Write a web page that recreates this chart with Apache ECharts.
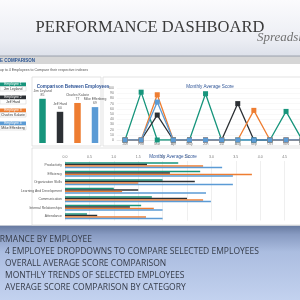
<!DOCTYPE html>
<html><head><meta charset="utf-8">
<script src="https://cdn.jsdelivr.net/npm/echarts/dist/echarts.min.js"></script>
<style>html,body{margin:0;padding:0;background:#fff}#c{width:300px;height:300px}</style>
</head><body><div id="c"></div>
<script>
const employees = ['Jim Leyland', 'Jeff Hard', 'Charles Kalarie', 'Mike Effenberg'];
const employeeSlots = ['Employee 1', 'Employee 2', 'Employee 3', 'Employee 4'];
const overallScores = [85, 60, 77, 69];
const months = ['Jan', 'Feb', 'Mar', 'Apr', 'May', 'Jun', 'Jul', 'Aug', 'Sep', 'Oct', 'Nov', 'Dec'];
const monthlyJim = [0, 92, 0, 0, 0, 89, 0, 0, 0, 0, 55, 0];
const monthlyJeff = [0, 0, 48, 0, 0, 0, 0, 70, 0, 0, 0, 0];
const monthlyCharles = [0, 0, 87, 0, 0, 0, 0, 0, 57, 0, 0, 0];
const monthlyMike = [0, 0, 73, 0, 0, 0, 0, 0, 0, 0, 0, 0];
const categories = ['Productivity', 'Efficiency', 'Organization Skills', 'Learning And Development', 'Communication', 'Internal Relationships', 'Attendance'];
const categoryJim = [2.32, 2.77, 2.0, 1.0, 1.78, 1.56, 0.45];
const categoryJeff = [1.68, 2.15, 2.66, 1.5, 2.5, 1.33, 0.66];
const categoryCharles = [2.83, 3.83, 1.5, 1.17, 2.83, 1.82, 1.66];
const categoryMike = [3.22, 3.44, 3.44, 2.89, 2.99, 2.0, 2.0];
const bannerLines = ['PERFORMANCE BY EMPLOYEE', '4 EMPLOYEE DROPDOWNS TO COMPARE SELECTED EMPLOYEES', 'OVERALL AVERAGE SCORE COMPARISON', 'MONTHLY TRENDS OF SELECTED EMPLOYEES', 'AVERAGE SCORE COMPARISON BY CATEGORY'];

const colors = ['#17957c', '#2c3034', '#ee7d31', '#5b9bd5'];
const monthly = [monthlyJim, monthlyJeff, monthlyCharles, monthlyMike];
const byCat = [categoryJim, categoryJeff, categoryCharles, categoryMike];
const titleColor = '#2f5597';

const chart = echarts.init(document.getElementById('c'), null, {renderer: 'canvas'});

const graphics = [];
// header
graphics.push({type: 'rect', shape: {x: 0, y: 0, width: 300, height: 56}, z: -20,
  style: {fill: new echarts.graphic.LinearGradient(0, 0, 0, 1, [{offset: 0, color: '#fbfbfd'}, {offset: 0.7, color: '#eceef4'}, {offset: 1, color: '#dde1ea'}])}});
graphics.push({type: 'rect', shape: {x: 0, y: 55.5, width: 300, height: 1.2}, z: -19, style: {fill: '#9ea3ad'}});
graphics.push({type: 'text', x: 150, y: 28, z: 5, style: {text: 'PERFORMANCE DASHBOARD', font: '16.5px "Liberation Serif"', fill: '#3a3a3a', textAlign: 'center', textVerticalAlign: 'middle'}});
graphics.push({type: 'text', x: 257, y: 44, z: 5, style: {text: 'Spreadsheet', font: 'italic 13px "Liberation Serif"', fill: '#707070', textAlign: 'left', textVerticalAlign: 'bottom'}});
// screenshot top bar
graphics.push({type: 'rect', shape: {x: 0, y: 57, width: 300, height: 7}, z: -19, style: {fill: '#d6d6d6'}});
graphics.push({type: 'text', x: 35, y: 60.7, z: 5, style: {text: 'EMPLOYEE COMPARISON', font: 'bold 4.5px "Liberation Sans"', fill: '#2c5694', textAlign: 'right', textVerticalAlign: 'middle'}});
graphics.push({type: 'text', x: 88, y: 70, z: 5, style: {text: 'Select up to 4 Employees to Compare their respective indexes', font: '3.6px "Liberation Sans"', fill: '#555', textAlign: 'right', textVerticalAlign: 'middle'}});
// panels
[[32, 77, 69, 69], [103, 77, 200, 69], [32, 148, 270, 77]].forEach(p => {
  graphics.push({type: 'rect', shape: {x: p[0], y: p[1], width: p[2], height: p[3]}, z: -15, style: {fill: '#fff', stroke: '#dcdcdc', lineWidth: 0.8}});
});
// employee selectors
const slotY = [82.5, 95.5, 108.5, 121.5];
employeeSlots.forEach((s, i) => {
  graphics.push({type: 'rect', shape: {x: 0, y: slotY[i], width: 26, height: 4}, z: 1, style: {fill: colors[i]}});
  graphics.push({type: 'text', x: 13, y: slotY[i] + 2, z: 5, style: {text: s, font: '3.3px "Liberation Sans"', fill: '#fff', textAlign: 'center', textVerticalAlign: 'middle'}});
  graphics.push({type: 'rect', shape: {x: 0, y: slotY[i] + 4, width: 26, height: 4.5}, z: 1, style: {fill: '#fff', stroke: '#cfcfcf', lineWidth: 0.5}});
  graphics.push({type: 'text', x: 13, y: slotY[i] + 6.3, z: 5, style: {text: employees[i], font: '3.5px "Liberation Sans"', fill: '#333', textAlign: 'center', textVerticalAlign: 'middle'}});
});
// banner
graphics.push({type: 'rect', shape: {x: 0, y: 225.5, width: 300, height: 75}, z: -20,
  style: {fill: new echarts.graphic.LinearGradient(0, 0, 0, 1, [{offset: 0, color: '#66799f'}, {offset: 0.12, color: '#889bc2'}, {offset: 0.35, color: '#abbde0'}, {offset: 1, color: '#c3d2ef'}])}});
graphics.push({type: 'rect', shape: {x: 0, y: 225, width: 300, height: 0.8}, z: -19, style: {fill: '#c8ccd6'}});
const bannerY = [239.5, 252, 264, 276, 288];
bannerLines.forEach((t, i) => {
  graphics.push({type: 'text', x: i === 0 ? 92 : 5, y: bannerY[i], z: 5, style: {text: t, font: '8.5px "Open Sans"', fill: '#353b48', textAlign: i === 0 ? 'right' : 'left', textVerticalAlign: 'middle'}});
});

const smallLabel = {fontSize: 3.5, color: '#777', fontFamily: 'Liberation Sans'};

const option = {
  animation: false,
  graphic: graphics,
  title: [
    {text: 'Comparison Between Employees', left: 68, top: 79.5, textAlign: 'center', textStyle: {fontSize: 4.6, fontWeight: 'bold', color: titleColor, fontFamily: 'Liberation Sans'}},
    {text: 'Monthly Average Score', left: 205, top: 79.5, textAlign: 'center', textStyle: {fontSize: 4.6, fontWeight: 'normal', color: titleColor, fontFamily: 'Liberation Sans'}},
    {text: 'Monthly Average Score', left: 168, top: 149.5, textAlign: 'center', textStyle: {fontSize: 4.6, fontWeight: 'normal', color: titleColor, fontFamily: 'Liberation Sans'}}
  ],
  grid: [
    {left: 33.75, top: 91, width: 70, height: 52, outerBoundsMode: 'none'},
    {left: 117, top: 88, width: 193.2, height: 52, outerBoundsMode: 'none'},
    {left: 65, top: 161, width: 244, height: 59.5, outerBoundsMode: 'none'}
  ],
  xAxis: [
    {gridIndex: 0, type: 'category', data: employees, axisLabel: {show: false}, axisTick: {show: false}, axisLine: {show: false}},
    {gridIndex: 1, type: 'category', data: months, boundaryGap: true, axisLabel: Object.assign({margin: 2.5}, smallLabel), axisTick: {show: false}, axisLine: {lineStyle: {color: '#d9d9d9', width: 0.5}}},
    {gridIndex: 2, type: 'value', position: 'top', min: 0, max: 5, interval: 0.5,
      axisLabel: Object.assign({margin: 2, formatter: v => v.toFixed(1)}, smallLabel),
      axisLine: {show: false}, axisTick: {show: false}, splitLine: {lineStyle: {color: '#e4e4e4', width: 0.6}}}
  ],
  yAxis: [
    {gridIndex: 0, type: 'value', min: 0, max: 100, show: false},
    {gridIndex: 1, type: 'value', min: 0, max: 100, interval: 10, axisLabel: Object.assign({margin: 3}, smallLabel),
      axisLine: {show: false}, axisTick: {show: false}, splitLine: {lineStyle: {color: '#f0f0f0', width: 0.5}}},
    {gridIndex: 2, type: 'category', data: categories, inverse: true,
      axisLabel: {fontSize: 3.4, color: '#555', margin: 3, fontFamily: 'Liberation Sans'},
      axisLine: {show: false}, axisTick: {show: false}}
  ],
  series: [
    {type: 'bar', xAxisIndex: 0, yAxisIndex: 0, barWidth: 6.5,
      data: overallScores.map((v, i) => ({value: v, itemStyle: {color: colors[i]}})),
      label: {show: true, position: 'top', distance: 2, formatter: '{b}\n{c}', fontSize: 3.4, lineHeight: 4, color: '#555', fontFamily: 'Liberation Sans'}}
  ].concat(employees.map((e, i) => ({
    type: 'line', name: e, xAxisIndex: 1, yAxisIndex: 1, data: monthly[i],
    symbol: 'rect', symbolSize: 5, showSymbol: true,
    lineStyle: {color: colors[i], width: 1.3}, itemStyle: {color: colors[i], borderColor: colors[i], borderWidth: 0}
  }))).concat(employees.map((e, i) => ({
    type: 'bar', name: e + ' ', xAxisIndex: 2, yAxisIndex: 2, data: byCat[i],
    barCategoryGap: '30%', barGap: '0%', itemStyle: {color: colors[i]}
  })))
};
chart.setOption(option);
</script>
</body></html>
